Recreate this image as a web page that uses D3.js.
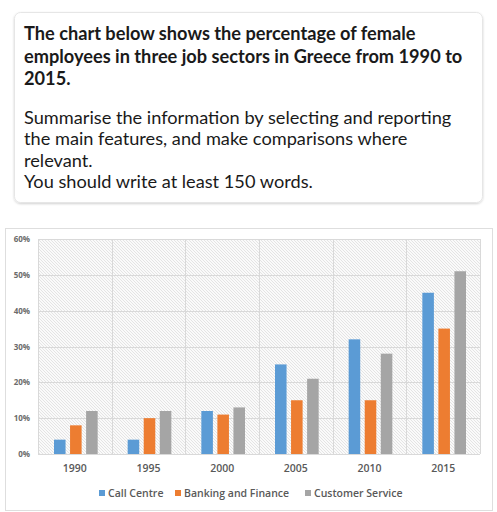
<!DOCTYPE html>
<html>
<head>
<meta charset="utf-8">
<script src="https://cdn.jsdelivr.net/npm/d3@7"></script>
<style>
  body { margin: 0; background: #fff; }
  svg { display: block; }
</style>
</head>
<body>
<div id="chart"></div>
<script>
// Data
const years = ["1990", "1995", "2000", "2005", "2010", "2015"];
const seriesNames = ["Call Centre", "Banking and Finance", "Customer Service"];
const callCentre = [4, 4, 12, 25, 32, 45];
const banking = [8, 10, 11, 15, 15, 35];
const customerService = [12, 12, 13, 21, 28, 51];
const yTicks = [0, 10, 20, 30, 40, 50, 60];

const titleLines = [
    "The chart below shows the percentage of female",
    "employees in three job sectors in Greece from 1990 to",
    "2015."
];
const bodyLines = [
    "Summarise the information by selecting and reporting",
    "the main features, and make comparisons where",
    "relevant.",
    "You should write at least 150 words."
];

const colors = ["#5b9bd5", "#ed7d31", "#a5a5a5"];
const width = 497;
const height = 512;
const margin = { top: 239, right: 17, bottom: 58, left: 38 };
const chartWidth = width - margin.left - margin.right;
const chartHeight = height - margin.top - margin.bottom;

const svg = d3.select("#chart")
    .append("svg")
    .attr("width", width)
    .attr("height", height);

const defs = svg.append("defs");
const shadow = defs.append("filter").attr("id", "shadow")
    .attr("x", -0.05).attr("y", -0.05).attr("width", 1.1).attr("height", 1.15);
shadow.append("feDropShadow")
    .attr("dx", 0).attr("dy", 1).attr("stdDeviation", 1.2)
    .attr("flood-color", "#000").attr("flood-opacity", 0.18);

const hatch = defs.append("pattern")
    .attr("id", "hatch")
    .attr("patternUnits", "userSpaceOnUse")
    .attr("width", 3).attr("height", 3);
hatch.append("rect").attr("width", 3).attr("height", 3).attr("fill", "#fafafa");
hatch.append("path")
    .attr("d", "M-1,-1 L4,4 M-1,2 L1,4 M2,-1 L4,1")
    .attr("stroke", "#dedede")
    .attr("stroke-width", 0.8);

// Task card
svg.append("rect")
    .attr("x", 14.5).attr("y", 12.5)
    .attr("width", 468).attr("height", 190)
    .attr("rx", 6)
    .attr("fill", "#fff")
    .attr("stroke", "#e6e6e6")
    .attr("filter", "url(#shadow)");

svg.append("g").selectAll("text")
    .data(titleLines)
    .join("text")
    .attr("x", 24)
    .attr("y", (d, i) => 40 + i * 22.5)
    .style("font-family", "Lato, sans-serif")
    .style("font-weight", "bold")
    .style("font-size", "18.2px")
    .attr("fill", "#1a1a1a")
    .text(d => d);

svg.append("g").selectAll("text")
    .data(bodyLines)
    .join("text")
    .attr("x", 24)
    .attr("y", (d, i) => 123.5 + i * 21.6)
    .style("font-family", "Lato, sans-serif")
    .style("font-size", "18.2px")
    .attr("fill", "#1a1a1a")
    .text(d => d);

// Chart frame
svg.append("rect")
    .attr("x", 5.5).attr("y", 228.5)
    .attr("width", 487).attr("height", 282)
    .attr("fill", "#fff")
    .attr("stroke", "#dedede");

const chart = svg.append("g")
    .attr("transform", `translate(${margin.left}, ${margin.top})`);

const x0 = d3.scaleBand().domain(years).range([0, chartWidth]);
const x1 = d3.scaleBand().domain(seriesNames).range([16, x0.bandwidth() - 14]).paddingInner(0.28);
const y = d3.scaleLinear().domain([0, 60]).range([chartHeight, 0]);

chart.append("rect")
    .attr("width", chartWidth).attr("height", chartHeight)
    .attr("fill", "url(#hatch)");

// Gridlines
chart.append("g").selectAll("line")
    .data(yTicks)
    .join("line")
    .attr("x1", 0).attr("x2", chartWidth)
    .attr("y1", d => Math.round(y(d)) + 0.5).attr("y2", d => Math.round(y(d)) + 0.5)
    .attr("stroke", "#d9d9d9");

chart.append("g").selectAll("line")
    .data(years.concat(["end"]))
    .join("line")
    .attr("x1", (d, i) => Math.round(x0.step() * i) + 0.5)
    .attr("x2", (d, i) => Math.round(x0.step() * i) + 0.5)
    .attr("y1", 0).attr("y2", chartHeight)
    .attr("stroke", "#d9d9d9");

// Bars
const table = years.map((yr, i) => ({
    year: yr,
    values: [callCentre[i], banking[i], customerService[i]]
}));

chart.append("g").selectAll("g")
    .data(table)
    .join("g")
    .attr("transform", d => `translate(${x0(d.year)},0)`)
    .selectAll("rect")
    .data(d => d.values.map((v, k) => ({ name: seriesNames[k], value: v, k })))
    .join("rect")
    .attr("x", d => x1(d.name))
    .attr("width", x1.bandwidth())
    .attr("y", d => y(d.value))
    .attr("height", d => chartHeight - y(d.value))
    .attr("fill", d => colors[d.k]);

// Axes
const yAxis = d3.axisLeft(y).tickValues(yTicks).tickFormat(d => d + "%").tickSize(0).tickPadding(8);
const yG = chart.append("g").call(yAxis);
yG.select(".domain").remove();
yG.selectAll("text")
    .style("font-family", "'Open Sans', sans-serif")
    .style("font-size", "8px")
    .style("font-weight", "bold")
    .attr("fill", "#6b6b6b");

const xAxis = d3.axisBottom(x0).tickSize(0).tickPadding(11);
const xG = chart.append("g")
    .attr("transform", `translate(0, ${chartHeight})`)
    .call(xAxis);
xG.select(".domain").remove();
xG.selectAll("text")
    .style("font-family", "'Open Sans', sans-serif")
    .style("font-size", "10.5px")
    .style("font-weight", "600")
    .attr("fill", "#595959");

// Legend
const legendX = [99, 175, 305];
const legend = svg.append("g").selectAll("g")
    .data(seriesNames)
    .join("g")
    .attr("transform", (d, i) => `translate(${legendX[i]}, 493)`);
legend.append("rect")
    .attr("x", 0).attr("y", -3)
    .attr("width", 6).attr("height", 6)
    .attr("fill", (d, i) => colors[i]);
legend.append("text")
    .attr("x", 9)
    .attr("dy", "0.35em")
    .style("font-family", "'Open Sans', sans-serif")
    .style("font-size", "10.5px")
    .style("font-weight", "600")
    .attr("fill", "#595959")
    .text(d => d);
</script>
</body>
</html>
